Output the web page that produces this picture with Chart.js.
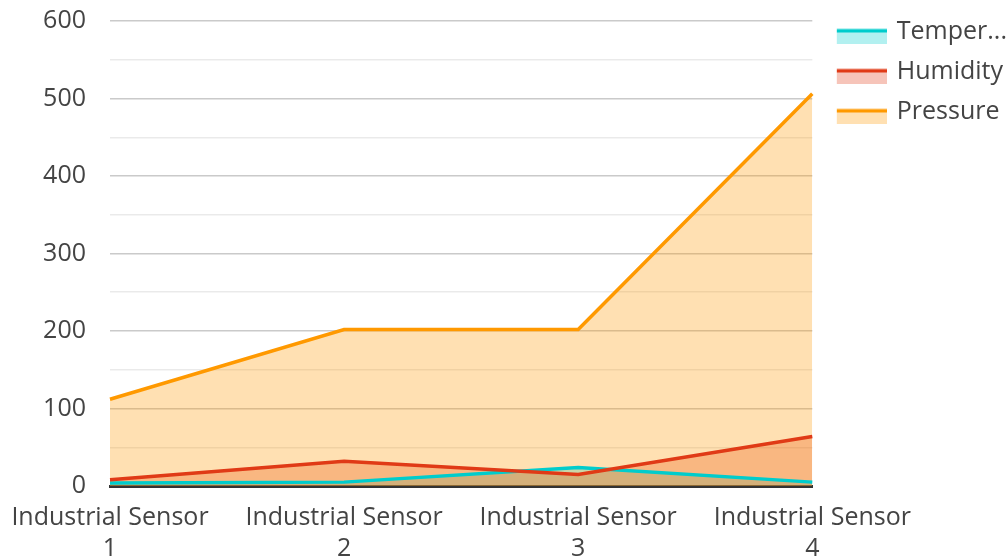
<!DOCTYPE html>
<html>
<head>
<meta charset="utf-8">
<script src="https://cdn.jsdelivr.net/npm/chart.js@4.4.0/dist/chart.umd.min.js"></script>
<style>
html,body{margin:0;padding:0;background:#fff;}
#wrap{position:relative;width:1007px;height:558px;}
</style>
</head>
<body>
<div id="wrap"><canvas id="c" width="1007" height="558"></canvas></div>
<script>
const categories = [["Industrial Sensor","1"],["Industrial Sensor","2"],["Industrial Sensor","3"],["Industrial Sensor","4"]];
const seriesNames = ["Temperature","Humidity","Pressure"];
const legendNames = ["Temper...","Humidity","Pressure"];
const temperature = [4, 5, 24, 5];
const humidity = [8, 32, 15, 64];
const pressure = [112, 202, 202, 506];
const yTicks = [0, 100, 200, 300, 400, 500, 600];

const colors = ["#00cccc", "#e03a16", "#ff9900"];
const fills = ["rgba(0,204,204,0.3)", "rgba(224,58,22,0.3)", "rgba(255,153,0,0.3)"];

function legendIcon(i){
  const c = document.createElement('canvas');
  c.width = 62; c.height = 24;
  const x = c.getContext('2d');
  x.fillStyle = fills[i];
  x.fillRect(12, 13, 50, 11);
  x.fillStyle = colors[i];
  x.fillRect(12, 9.5, 50, 3.5);
  return c;
}
const icons = [0,1,2].map(legendIcon);

const FONT = "'Open Sans', 'Noto Sans', sans-serif";
const FS = 25;

new Chart(document.getElementById('c'), {
  type: 'line',
  data: {
    labels: categories,
    datasets: [temperature, humidity, pressure].map((d, i) => ({
      label: seriesNames[i],
      data: d,
      order: 3 - i,
      borderColor: colors[i],
      backgroundColor: fills[i],
      borderWidth: 3.5,
      fill: 'origin',
      tension: 0,
      pointRadius: 0
    }))
  },
  options: {
    responsive: false,
    animation: false,
    layout: { padding: { top: 4, right: -10, left: 0, bottom: 0 } },
    plugins: {
      filler: { drawTime: 'beforeDatasetsDraw' },
      tooltip: { enabled: false },
      legend: {
        position: 'right',
        align: 'start',
        labels: {
          usePointStyle: true,
          pointStyleWidth: 57,
          padding: 15,
          color: '#444',
          font: { family: FONT, size: FS },
          generateLabels: (chart) => chart.data.datasets.map((ds, i) => ({
            text: legendNames[i],
            pointStyle: icons[i],
            fillStyle: fills[i],
            strokeStyle: colors[i],
            lineWidth: 0,
            hidden: false,
            datasetIndex: i,
            fontColor: '#444'
          }))
        }
      }
    },
    scales: {
      x: {
        offset: false,
        afterFit: (s) => { s.height = 72; s.paddingLeft = 110; s.paddingRight = 0; },
        grid: { display: false, drawTicks: false },
        border: { display: true, color: '#333', width: 3 },
        ticks: { color: '#444', font: { family: FONT, size: FS, lineHeight: 1.24 }, maxRotation: 0, autoSkip: false, padding: 16 }
      },
      y: {
        min: 0, max: 600,
        afterBuildTicks: (axis) => {
          const t = [];
          for (let v = 0; v <= 600; v += 50) t.push({ value: v });
          axis.ticks = t;
        },
        afterFit: (s) => { s.paddingTop = 21; },
        grid: {
          drawTicks: false,
          color: (ctx) => (ctx.tick && yTicks.includes(ctx.tick.value)) ? 'rgba(150,150,150,0.5)' : 'rgba(180,180,180,0.28)',
          lineWidth: 1.5
        },
        border: { display: false },
        ticks: {
          color: '#444',
          font: { family: FONT, size: FS },
          padding: 24,
          callback: (v) => yTicks.includes(v) ? String(v) : ''
        }
      }
    }
  }
});
</script>
</body>
</html>
